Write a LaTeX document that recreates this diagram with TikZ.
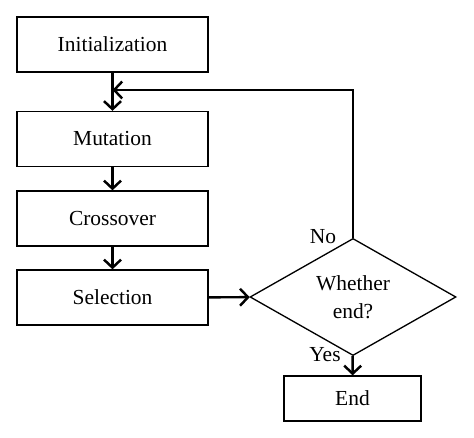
\documentclass[tikz,border=0pt]{standalone}
\usepackage{fontspec}
\setmainfont{Liberation Serif}
\usepackage{tikz}
\usetikzlibrary{shapes,arrows,positioning,calc,arrows.meta}

\begin{document}
\begin{tikzpicture}[
    stepbox/.style={draw, line width=0.75pt, minimum width=3.82cm, minimum height=1.1cm, inner sep=0pt},
    endbox/.style={draw, line width=0.75pt, minimum width=2.74cm, minimum height=0.9cm, inner sep=0pt},
    decide/.style={draw, diamond, line width=0.75pt, minimum width=4.12cm, minimum height=1.88cm, inner sep=0pt, align=center},
    flow/.style={line width=1.4pt, -{Straight Barb[length=1.6mm,width=3.4mm,line width=1.4pt]}},
    back/.style={line width=0.9pt, -{Straight Barb[length=1.6mm,width=3.4mm,line width=1.4pt]}},
    every node/.style={font=\fontsize{12.2}{14}\selectfont}
]
    \useasboundingbox (0,0) rectangle (9.48,8.76);
    \node[stepbox] (init) at (2.25,7.87) {Initialization};
    \node[stepbox] (mut) at (2.25,5.98) {Mutation};
    \node[stepbox] (cross) at (2.25,4.39) {Crossover};
    \node[stepbox] (sel) at (2.25,2.81) {Selection};
    \node[decide] (check) at (7.06,2.82) {Whether\\[2pt]end?};
    \node[endbox] (fin) at (7.05,0.79) {End};
    \coordinate (corner) at (7.06,6.96);
    \coordinate (merge) at (2.25,6.96);

    \draw[flow] (init) -- (mut);
    \draw[flow] (mut) -- (cross);
    \draw[flow] (cross) -- (sel);
    \draw[flow] (sel) -- (check);
    \draw[flow] (check) -- (fin);
    \draw[back] (check.north) -- (corner) -- (merge);

    \node (no) at (6.46,4.02) {No};
    \node (yes) at (6.5,1.66) {Yes};
\end{tikzpicture}
\end{document}
